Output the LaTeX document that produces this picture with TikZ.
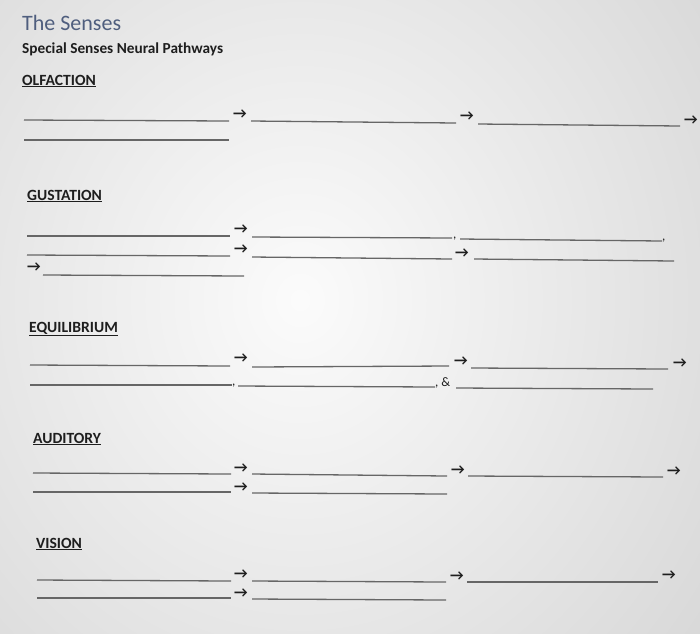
\documentclass[tikz,border=0pt]{standalone}
\usepackage{fontspec}
\setmainfont{Carlito}
\usetikzlibrary{positioning}
\definecolor{inkgray}{HTML}{1E1E1E}
\definecolor{rulegray}{HTML}{666666}
\definecolor{titleblue}{HTML}{4F5E7E}
\tikzset{
  % the blank lines to write on
  blank/.style = {draw=rulegray, line width=1.3pt},
  % arrows and punctuation between the blanks
  arrowtext/.style = {inner sep=0pt, text=inkgray, font=\fontsize{15}{15}\selectfont\bfseries},
  punct/.style = {anchor=base west, inner sep=0pt, text=inkgray, font=\fontsize{13}{14}\selectfont},
  % section headings
  heading/.style = {anchor=base west, inner sep=0pt, text=inkgray, font=\fontsize{15.6}{17}\selectfont\bfseries}
}

\begin{document}
\begin{tikzpicture}[x=1pt,y=-1pt]
    % Paper of the photo
    \useasboundingbox (0,0) rectangle (700,633);
    \shade[inner color=white!97!gray, outer color=gray!30] (-200,-250) rectangle (800,850);
    % Titles
    \node[anchor=base west, inner sep=0pt, text=titleblue, font=\fontsize{22}{24}\selectfont] (title) at (22,30) {The Senses};
    \node[anchor=base west, inner sep=0pt, text=inkgray, font=\fontsize{15.3}{17}\selectfont\bfseries] (subtitle) at (22,53) {Special Senses Neural Pathways};
    % Headings of the senses
    \node[heading] (olfaction) at (22,85) {\underline{OLFACTION}};
    \node[heading] (gustation) at (27,200) {\underline{GUSTATION}};
    \node[heading] (equilibrium) at (29,332) {\underline{EQUILIBRIUM}};
    \node[heading] (auditory) at (33,443) {\underline{AUDITORY}};
    \node[heading] (vision) at (36,548) {\underline{VISION}};
    % Blank lines: x start / y start / x end / y end
    \foreach \xa/\ya/\xb/\yb in {
        24/120/229/121, 251/121/456/123, 478/124/680/126, 24/140/229/140,
        27/236/230/236, 252/237/452/238, 460/239/662/241,
        27/255/230/256, 252/257/452/259, 474/259/674/261, 43/275/244/276,
        30/365/230/366, 252/367/449/366, 471/368/668/369,
        30/385/232/385, 238/386/435/387, 456/388/653/389,
        33/473/231/474, 252/474/447/476, 468/476/663/477,
        33/492/231/492, 252/493/447/494,
        37/580/231/581, 252/581/446/582, 467/582/658/582,
        37/598/231/598, 252/599/446/600}
    \draw[blank] (\xa,\ya) -- (\xb,\yb);
    % Arrows between the blanks
    \foreach \x/\y/\name in {
        240/114/olfA, 467/116/olfB, 691/120/olfC,
        241/229/gusA, 241/249/gusB, 462/253/gusC, 34/267/gusD,
        241/358/equA, 461/361/equB, 680/363/equC,
        241/468/audA, 241/487/audB, 458/470/audC, 674/471/audD,
        241/574/visA, 241/593/visB, 457/576/visC, 669/575/visD}
    \node[arrowtext] (\name) at (\x,\y) {→};
    % Commas and the ampersand
    \node[punct] (gusComma1) at (453,238) {,};
    \node[punct] (gusComma2) at (662,240) {,};
    \node[punct] (equComma) at (232,385) {,};
    \node[punct] (equAnd) at (435,386) {, \&};
\end{tikzpicture}
\end{document}
